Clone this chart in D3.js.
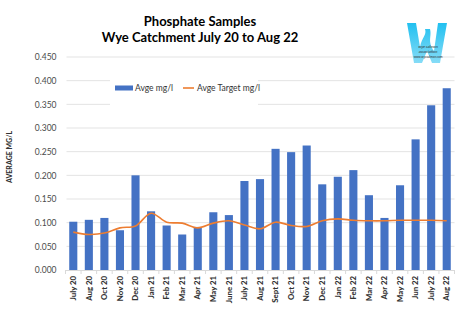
<!DOCTYPE html>
<html>
<head>
<meta charset="utf-8">
<script src="https://cdn.jsdelivr.net/npm/d3@7"></script>
<style>
  html, body { margin: 0; padding: 0; background: #fff; }
  svg { display: block; }
</style>
</head>
<body>
<svg id="chart" width="474" height="333"></svg>
<script>
// Monthly sampling periods
const months = ["July 20","Aug 20","Oct 20","Nov 20","Dec 20","Jan 21","Feb 21","Mar 21","Apr 21","May 21","June 21","July 21","Aug 21","Sept 21","Oct 21","Nov 21","Dec 21","Jan 22","Feb 22","Mar 22","Apr 22","May 22","Jun 22","July 22","Aug 22"];
// Average phosphate (mg/l)
const avgValues = [0.102,0.106,0.110,0.084,0.200,0.124,0.094,0.075,0.091,0.122,0.116,0.188,0.192,0.256,0.249,0.263,0.181,0.197,0.211,0.158,0.110,0.179,0.276,0.348,0.384];
// Average target (mg/l)
const targetValues = [0.080,0.075,0.078,0.089,0.093,0.120,0.101,0.099,0.089,0.099,0.104,0.095,0.087,0.101,0.094,0.092,0.104,0.108,0.105,0.104,0.104,0.105,0.105,0.105,0.104];
const yTicks = [0,0.05,0.1,0.15,0.2,0.25,0.3,0.35,0.4,0.45];
const titleLines = ["Phosphate Samples","Wye Catchment July 20 to Aug 22"];
const seriesNames = ["Avge mg/l","Avge Target mg/l"];
const logoLines = ["wye salmon", "association", "www.wyesalmon.com"];

const svg = d3.select("#chart");
const plot = { left: 65.5, right: 454.5, top: 57, bottom: 270 };
const barColor = "#4472C4", lineColor = "#ED7D31";
const font = "Lato, 'Open Sans', sans-serif";

const x = d3.scaleBand().domain(months).range([plot.left, plot.right]).paddingInner(0.48).paddingOuter(0.24);
const y = d3.scaleLinear().domain([0, 0.45]).range([plot.bottom, plot.top]);

// Gridlines
svg.append("g").selectAll("line").data(yTicks.slice(1)).join("line")
  .attr("x1", plot.left + 1).attr("x2", plot.right)
  .attr("y1", d => y(d)).attr("y2", d => y(d))
  .attr("stroke", "#e3e3e3").attr("stroke-width", 1);

// Y axis labels
const yAxis = d3.axisLeft(y).tickValues(yTicks).tickFormat(d3.format(".3f")).tickSize(0).tickPadding(9);
const yg = svg.append("g").attr("transform", `translate(${plot.left},0)`).call(yAxis);
yg.select(".domain").remove();
yg.selectAll("text").attr("font-family", font).attr("font-size", 8.5).attr("fill", "#4a4a4a");

// Category axis line and boundary ticks
svg.append("line").attr("x1", plot.left).attr("x2", plot.right)
  .attr("y1", plot.bottom + 0.5).attr("y2", plot.bottom + 0.5).attr("stroke", "#d9d9d9");
const step = x.step();
svg.append("g").selectAll("line").data(d3.range(months.length + 1)).join("line")
  .attr("x1", i => plot.left + i * step).attr("x2", i => plot.left + i * step)
  .attr("y1", plot.bottom).attr("y2", plot.bottom + 4).attr("stroke", "#d9d9d9");

// Bars
svg.append("g").selectAll("rect").data(avgValues).join("rect")
  .attr("x", (d, i) => x(months[i]))
  .attr("width", x.bandwidth())
  .attr("y", d => y(d))
  .attr("height", d => y(0) - y(d))
  .attr("fill", barColor);

// Target line
const line = d3.line()
  .x((d, i) => x(months[i]) + x.bandwidth() / 2)
  .y(d => y(d))
  .curve(d3.curveCatmullRom.alpha(0.5));
svg.append("path").datum(targetValues).attr("d", line)
  .attr("fill", "none").attr("stroke", lineColor).attr("stroke-width", 1.6);

// Category labels (rotated)
const xAxis = d3.axisBottom(x).tickSize(0).tickPadding(0);
const xg = svg.append("g").attr("transform", `translate(0,${plot.bottom})`).call(xAxis);
xg.select(".domain").remove();
xg.selectAll("text")
  .attr("font-family", font).attr("font-size", 7.8).attr("font-weight", 900).attr("fill", "#333")
  .attr("text-anchor", "end").attr("dy", "0.35em")
  .attr("transform", "translate(0,6) rotate(-90)")
  .attr("x", 0).attr("y", 0);

// Y axis title
svg.append("text").attr("transform", "translate(12,157) rotate(-90)")
  .attr("text-anchor", "middle").attr("font-family", font).attr("font-size", 7)
  .attr("font-weight", 900).attr("fill", "#333").text("AVERAGE MG/L");

// Title
svg.append("g").selectAll("text").data(titleLines).join("text")
  .attr("x", 200).attr("y", (d, i) => 26 + i * 16)
  .attr("text-anchor", "middle").attr("font-family", font).attr("font-size", 13)
  .attr("font-weight", "bold").attr("fill", "#000").text(d => d);

// Legend with white backing
const lg = svg.append("g");
lg.append("rect").attr("x", 110).attr("y", 77).attr("width", 148).attr("height", 30).attr("fill", "#fff");
lg.append("rect").attr("x", 115).attr("y", 85.5).attr("width", 18).attr("height", 5).attr("fill", barColor);
lg.append("text").attr("x", 135).attr("y", 91).attr("font-family", font).attr("font-size", 8.5)
  .attr("fill", "#333").text(seriesNames[0]);
lg.append("line").attr("x1", 183).attr("x2", 194).attr("y1", 88).attr("y2", 88)
  .attr("stroke", lineColor).attr("stroke-width", 1.6);
lg.append("text").attr("x", 197).attr("y", 91).attr("font-family", font).attr("font-size", 8.5)
  .attr("fill", "#333").text(seriesNames[1]);

// Association logo: a cyan "W" mark with small caption lines
const defs = svg.append("defs");
const grad = defs.append("linearGradient").attr("id", "wgrad")
  .attr("x1", 0).attr("x2", 0).attr("y1", 0).attr("y2", 1);
grad.append("stop").attr("offset", "0%").attr("stop-color", "#22c0f0");
grad.append("stop").attr("offset", "100%").attr("stop-color", "#86dcf7");
const logo = svg.append("g").attr("transform", "translate(407,23)");
logo.append("path")
  .attr("d", "M0,0 L9,0 L13,24 C15,14 20,12 18,6 L23,6 C25,14 20,18 27,28 L31,0 L40,0 L33,40 L25,40 L20,28 L15,40 L7,40 Z")
  .attr("fill", "url(#wgrad)");
logo.selectAll("text.cap").data(logoLines).join("text").attr("class", "cap")
  .attr("x", 21).attr("y", (d, i) => 25 + i * 5.2)
  .attr("text-anchor", "middle").attr("font-family", font)
  .attr("font-size", (d, i) => i < 2 ? 4 : 3)
  .attr("font-style", (d, i) => i < 2 ? "italic" : "normal")
  .attr("fill", "#333").text(d => d);
</script>
</body>
</html>
